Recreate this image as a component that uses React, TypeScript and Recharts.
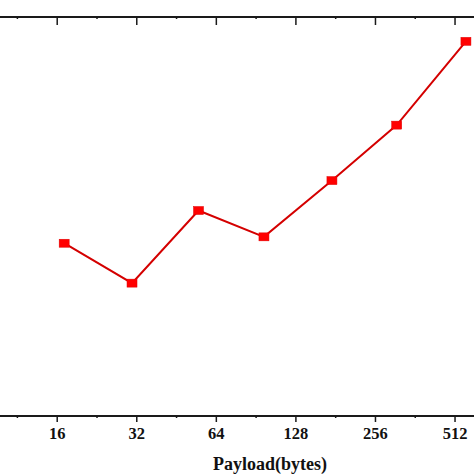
import { LineChart, Line, XAxis, YAxis, Label } from "recharts";

// payload position (bytes, log axis) and measured value for each point
const payload = [17.0, 30.7, 54.8, 96.9, 175.2, 308, 563];
const values = [43.3, 33.3, 51.5, 44.9, 59.0, 72.9, 93.9];

const majorTicks = [16, 32, 64, 128, 256, 512];
const minorTicks = [11.31, 22.63, 45.25, 90.5, 181, 362];
const allTicks = [...minorTicks, ...majorTicks].sort((a, b) => a - b);

const data = payload.map((p, i) => ({ payload: p, value: values[i] }));

const FONT = "'Liberation Serif', 'Times New Roman', serif";
const AXIS = "#1a1a1a";

const BottomTick = (props: any) => {
  const { x, y, payload: p } = props;
  const major = majorTicks.includes(p.value);
  return (
    <g>
      <line x1={x} x2={x} y1={y} y2={y + (major ? 6 : 2)} stroke={AXIS} strokeWidth={1.5} />
      {major && (
        <text x={x} y={y + 23} textAnchor="middle" fontFamily={FONT} fontWeight="bold" fontSize={16.5} fill="#111">
          {p.value}
        </text>
      )}
    </g>
  );
};

const TopTick = (props: any) => {
  const { x, y, payload: p } = props;
  const major = majorTicks.includes(p.value);
  return <line x1={x} x2={x} y1={y} y2={y + (major ? 8 : 2)} stroke={AXIS} strokeWidth={1.5} />;
};

const SquareDot = (props: any) => {
  const { cx, cy, index } = props;
  if (cx == null || cy == null) return null;
  return <rect key={index} x={cx - 5} y={cy - 4} width={10} height={8} fill="#ff0000" stroke="#e00000" strokeWidth={0.5} />;
};

export default function App() {
  return (
    <div style={{ position: "absolute", left: 0, top: 0, background: "#fff" }}>
      <LineChart width={474} height={474} data={data} margin={{ top: 16, right: 0, bottom: 0, left: 0 }}>
        <XAxis
          xAxisId="b"
          dataKey="payload"
          type="number"
          scale="log"
          domain={[9.72, 604]}
          allowDataOverflow
          ticks={allTicks}
          interval={0}
          tickSize={0}
          tickMargin={0}
          tickLine={false}
          tick={<BottomTick />}
          axisLine={{ stroke: AXIS, strokeWidth: 2 }}
          height={58}
        >
          <Label
            content={({ viewBox }: any) => (
              <text
                x={viewBox.x + viewBox.width / 2 + 33}
                y={viewBox.y + 53.5}
                textAnchor="middle"
                fontFamily={FONT}
                fontWeight="bold"
                fontSize={18}
                fill="#111"
              >
                Payload(bytes)
              </text>
            )}
          />
        </XAxis>
        <XAxis
          xAxisId="t"
          orientation="top"
          dataKey="payload"
          type="number"
          scale="log"
          domain={[9.72, 604]}
          allowDataOverflow
          ticks={allTicks}
          interval={0}
          tickSize={0}
          tickMargin={0}
          tickLine={false}
          tick={<TopTick />}
          axisLine={{ stroke: AXIS, strokeWidth: 2 }}
          height={1}
        />
        <YAxis hide domain={[0, 100]} />
        <Line
          xAxisId="b"
          dataKey="value"
          stroke="#d40000"
          strokeWidth={2}
          dot={<SquareDot />}
          activeDot={false}
          isAnimationActive={false}
        />
      </LineChart>
    </div>
  );
}
